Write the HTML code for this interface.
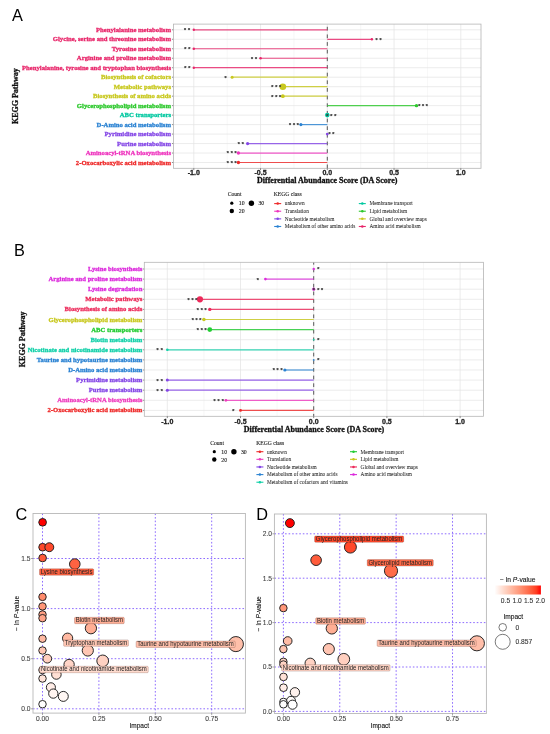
<!DOCTYPE html>
<html><head><meta charset="utf-8"><title>KEGG figure</title>
<style>html,body{margin:0;padding:0;background:#fff;overflow:hidden;width:550px;height:734px;}svg{display:block;filter:blur(0.3px);}</style></head>
<body><svg width="550" height="734" viewBox="0 0 550 734">
<rect width="550" height="734" fill="#fff"/>
<line x1="193.80" y1="24.1" x2="193.80" y2="168.3" stroke="#e2e2e2" stroke-width="0.7"/>
<line x1="260.55" y1="24.1" x2="260.55" y2="168.3" stroke="#e2e2e2" stroke-width="0.7"/>
<line x1="327.30" y1="24.1" x2="327.30" y2="168.3" stroke="#e2e2e2" stroke-width="0.7"/>
<line x1="394.05" y1="24.1" x2="394.05" y2="168.3" stroke="#e2e2e2" stroke-width="0.7"/>
<line x1="460.80" y1="24.1" x2="460.80" y2="168.3" stroke="#e2e2e2" stroke-width="0.7"/>
<line x1="227.18" y1="24.1" x2="227.18" y2="168.3" stroke="#efefef" stroke-width="0.5"/>
<line x1="293.93" y1="24.1" x2="293.93" y2="168.3" stroke="#efefef" stroke-width="0.5"/>
<line x1="360.68" y1="24.1" x2="360.68" y2="168.3" stroke="#efefef" stroke-width="0.5"/>
<line x1="427.43" y1="24.1" x2="427.43" y2="168.3" stroke="#efefef" stroke-width="0.5"/>
<line x1="173.5" y1="29.80" x2="481" y2="29.80" stroke="#e4e4e4" stroke-width="0.7"/>
<line x1="173.5" y1="39.28" x2="481" y2="39.28" stroke="#e4e4e4" stroke-width="0.7"/>
<line x1="173.5" y1="48.76" x2="481" y2="48.76" stroke="#e4e4e4" stroke-width="0.7"/>
<line x1="173.5" y1="58.24" x2="481" y2="58.24" stroke="#e4e4e4" stroke-width="0.7"/>
<line x1="173.5" y1="67.72" x2="481" y2="67.72" stroke="#e4e4e4" stroke-width="0.7"/>
<line x1="173.5" y1="77.20" x2="481" y2="77.20" stroke="#e4e4e4" stroke-width="0.7"/>
<line x1="173.5" y1="86.68" x2="481" y2="86.68" stroke="#e4e4e4" stroke-width="0.7"/>
<line x1="173.5" y1="96.16" x2="481" y2="96.16" stroke="#e4e4e4" stroke-width="0.7"/>
<line x1="173.5" y1="105.64" x2="481" y2="105.64" stroke="#e4e4e4" stroke-width="0.7"/>
<line x1="173.5" y1="115.12" x2="481" y2="115.12" stroke="#e4e4e4" stroke-width="0.7"/>
<line x1="173.5" y1="124.60" x2="481" y2="124.60" stroke="#e4e4e4" stroke-width="0.7"/>
<line x1="173.5" y1="134.08" x2="481" y2="134.08" stroke="#e4e4e4" stroke-width="0.7"/>
<line x1="173.5" y1="143.56" x2="481" y2="143.56" stroke="#e4e4e4" stroke-width="0.7"/>
<line x1="173.5" y1="153.04" x2="481" y2="153.04" stroke="#e4e4e4" stroke-width="0.7"/>
<line x1="173.5" y1="162.52" x2="481" y2="162.52" stroke="#e4e4e4" stroke-width="0.7"/>
<line x1="327.30" y1="24.1" x2="327.30" y2="168.3" stroke="#505050" stroke-width="0.95" stroke-dasharray="3.75 3.9" stroke-dashoffset="4.95"/>
<line x1="327.30" y1="29.80" x2="193.80" y2="29.80" stroke="#e8266a" stroke-width="1.2" stroke-opacity="0.82"/>
<circle cx="193.80" cy="29.80" r="1.2" fill="#e8266a"/>
<text x="185.10" y="32.20" font-family="Liberation Sans, sans-serif" font-size="5.3" font-weight="bold" fill="#3a3a3a" stroke="#3a3a3a" stroke-width="0.25" text-anchor="middle">*</text>
<text x="189.10" y="32.20" font-family="Liberation Sans, sans-serif" font-size="5.3" font-weight="bold" fill="#3a3a3a" stroke="#3a3a3a" stroke-width="0.25" text-anchor="middle">*</text>
<text x="171.0" y="31.90" font-family="Liberation Serif, serif" font-size="6.68" font-weight="bold" fill="#e8266a" stroke="#e8266a" stroke-width="0.3" text-anchor="end" transform="matrix(1 0 0 1.03 0 -0.957)">Phenylalanine metabolism</text>
<line x1="171.9" y1="29.80" x2="173.5" y2="29.80" stroke="#444" stroke-width="0.6"/>
<line x1="327.30" y1="39.28" x2="371.89" y2="39.28" stroke="#e8266a" stroke-width="1.2" stroke-opacity="0.82"/>
<circle cx="371.89" cy="39.28" r="1.2" fill="#e8266a"/>
<text x="376.60" y="41.68" font-family="Liberation Sans, sans-serif" font-size="5.3" font-weight="bold" fill="#3a3a3a" stroke="#3a3a3a" stroke-width="0.25" text-anchor="middle">*</text>
<text x="380.50" y="41.68" font-family="Liberation Sans, sans-serif" font-size="5.3" font-weight="bold" fill="#3a3a3a" stroke="#3a3a3a" stroke-width="0.25" text-anchor="middle">*</text>
<text x="171.0" y="41.38" font-family="Liberation Serif, serif" font-size="6.68" font-weight="bold" fill="#e8266a" stroke="#e8266a" stroke-width="0.3" text-anchor="end" transform="matrix(1 0 0 1.03 0 -1.241)">Glycine, serine and threonine metabolism</text>
<line x1="171.9" y1="39.28" x2="173.5" y2="39.28" stroke="#444" stroke-width="0.6"/>
<line x1="327.30" y1="48.76" x2="193.80" y2="48.76" stroke="#e8266a" stroke-width="1.2" stroke-opacity="0.82"/>
<circle cx="193.80" cy="48.76" r="1.3" fill="#e8266a"/>
<text x="185.20" y="51.16" font-family="Liberation Sans, sans-serif" font-size="5.3" font-weight="bold" fill="#3a3a3a" stroke="#3a3a3a" stroke-width="0.25" text-anchor="middle">*</text>
<text x="189.30" y="51.16" font-family="Liberation Sans, sans-serif" font-size="5.3" font-weight="bold" fill="#3a3a3a" stroke="#3a3a3a" stroke-width="0.25" text-anchor="middle">*</text>
<text x="171.0" y="50.86" font-family="Liberation Serif, serif" font-size="6.68" font-weight="bold" fill="#e8266a" stroke="#e8266a" stroke-width="0.3" text-anchor="end" transform="matrix(1 0 0 1.03 0 -1.526)">Tyrosine metabolism</text>
<line x1="171.9" y1="48.76" x2="173.5" y2="48.76" stroke="#444" stroke-width="0.6"/>
<line x1="327.30" y1="58.24" x2="260.55" y2="58.24" stroke="#e8266a" stroke-width="1.2" stroke-opacity="0.82"/>
<circle cx="260.55" cy="58.24" r="1.3" fill="#e8266a"/>
<text x="252.00" y="60.64" font-family="Liberation Sans, sans-serif" font-size="5.3" font-weight="bold" fill="#3a3a3a" stroke="#3a3a3a" stroke-width="0.25" text-anchor="middle">*</text>
<text x="256.10" y="60.64" font-family="Liberation Sans, sans-serif" font-size="5.3" font-weight="bold" fill="#3a3a3a" stroke="#3a3a3a" stroke-width="0.25" text-anchor="middle">*</text>
<text x="171.0" y="60.34" font-family="Liberation Serif, serif" font-size="6.68" font-weight="bold" fill="#e8266a" stroke="#e8266a" stroke-width="0.3" text-anchor="end" transform="matrix(1 0 0 1.03 0 -1.810)">Arginine and proline metabolism</text>
<line x1="171.9" y1="58.24" x2="173.5" y2="58.24" stroke="#444" stroke-width="0.6"/>
<line x1="327.30" y1="67.72" x2="193.80" y2="67.72" stroke="#e8266a" stroke-width="1.2" stroke-opacity="0.82"/>
<circle cx="193.80" cy="67.72" r="1.2" fill="#e8266a"/>
<text x="185.20" y="70.12" font-family="Liberation Sans, sans-serif" font-size="5.3" font-weight="bold" fill="#3a3a3a" stroke="#3a3a3a" stroke-width="0.25" text-anchor="middle">*</text>
<text x="189.30" y="70.12" font-family="Liberation Sans, sans-serif" font-size="5.3" font-weight="bold" fill="#3a3a3a" stroke="#3a3a3a" stroke-width="0.25" text-anchor="middle">*</text>
<text x="171.0" y="69.82" font-family="Liberation Serif, serif" font-size="6.68" font-weight="bold" fill="#e8266a" stroke="#e8266a" stroke-width="0.3" text-anchor="end" transform="matrix(1 0 0 1.03 0 -2.095)">Phenylalanine, tyrosine and tryptophan biosynthesis</text>
<line x1="171.9" y1="67.72" x2="173.5" y2="67.72" stroke="#444" stroke-width="0.6"/>
<line x1="327.30" y1="77.20" x2="232.11" y2="77.20" stroke="#c8c81e" stroke-width="1.2" stroke-opacity="0.82"/>
<circle cx="232.11" cy="77.20" r="1.5" fill="#c8c81e"/>
<text x="225.50" y="79.60" font-family="Liberation Sans, sans-serif" font-size="5.3" font-weight="bold" fill="#3a3a3a" stroke="#3a3a3a" stroke-width="0.25" text-anchor="middle">*</text>
<text x="171.0" y="79.30" font-family="Liberation Serif, serif" font-size="6.68" font-weight="bold" fill="#c8c81e" stroke="#c8c81e" stroke-width="0.3" text-anchor="end" transform="matrix(1 0 0 1.03 0 -2.379)">Biosynthesis of cofactors</text>
<line x1="171.9" y1="77.20" x2="173.5" y2="77.20" stroke="#444" stroke-width="0.6"/>
<line x1="327.30" y1="86.68" x2="282.84" y2="86.68" stroke="#c8c81e" stroke-width="1.2" stroke-opacity="0.82"/>
<circle cx="282.84" cy="86.68" r="3.3" fill="#c8c81e"/>
<text x="272.30" y="89.08" font-family="Liberation Sans, sans-serif" font-size="5.3" font-weight="bold" fill="#3a3a3a" stroke="#3a3a3a" stroke-width="0.25" text-anchor="middle">*</text>
<text x="276.30" y="89.08" font-family="Liberation Sans, sans-serif" font-size="5.3" font-weight="bold" fill="#3a3a3a" stroke="#3a3a3a" stroke-width="0.25" text-anchor="middle">*</text>
<text x="280.10" y="89.08" font-family="Liberation Sans, sans-serif" font-size="5.3" font-weight="bold" fill="#3a3a3a" stroke="#3a3a3a" stroke-width="0.25" text-anchor="middle">*</text>
<text x="171.0" y="88.78" font-family="Liberation Serif, serif" font-size="6.68" font-weight="bold" fill="#c8c81e" stroke="#c8c81e" stroke-width="0.3" text-anchor="end" transform="matrix(1 0 0 1.03 0 -2.663)">Metabolic pathways</text>
<line x1="171.9" y1="86.68" x2="173.5" y2="86.68" stroke="#444" stroke-width="0.6"/>
<line x1="327.30" y1="96.16" x2="282.84" y2="96.16" stroke="#c8c81e" stroke-width="1.2" stroke-opacity="0.82"/>
<circle cx="282.84" cy="96.16" r="1.9" fill="#c8c81e"/>
<text x="272.30" y="98.56" font-family="Liberation Sans, sans-serif" font-size="5.3" font-weight="bold" fill="#3a3a3a" stroke="#3a3a3a" stroke-width="0.25" text-anchor="middle">*</text>
<text x="276.30" y="98.56" font-family="Liberation Sans, sans-serif" font-size="5.3" font-weight="bold" fill="#3a3a3a" stroke="#3a3a3a" stroke-width="0.25" text-anchor="middle">*</text>
<text x="280.10" y="98.56" font-family="Liberation Sans, sans-serif" font-size="5.3" font-weight="bold" fill="#3a3a3a" stroke="#3a3a3a" stroke-width="0.25" text-anchor="middle">*</text>
<text x="171.0" y="98.26" font-family="Liberation Serif, serif" font-size="6.68" font-weight="bold" fill="#c8c81e" stroke="#c8c81e" stroke-width="0.3" text-anchor="end" transform="matrix(1 0 0 1.03 0 -2.948)">Biosynthesis of amino acids</text>
<line x1="171.9" y1="96.16" x2="173.5" y2="96.16" stroke="#444" stroke-width="0.6"/>
<line x1="327.30" y1="105.64" x2="416.48" y2="105.64" stroke="#2cc82c" stroke-width="1.2" stroke-opacity="0.82"/>
<circle cx="416.48" cy="105.64" r="1.7" fill="#2cc82c"/>
<text x="419.30" y="108.04" font-family="Liberation Sans, sans-serif" font-size="5.3" font-weight="bold" fill="#3a3a3a" stroke="#3a3a3a" stroke-width="0.25" text-anchor="middle">*</text>
<text x="423.10" y="108.04" font-family="Liberation Sans, sans-serif" font-size="5.3" font-weight="bold" fill="#3a3a3a" stroke="#3a3a3a" stroke-width="0.25" text-anchor="middle">*</text>
<text x="426.90" y="108.04" font-family="Liberation Sans, sans-serif" font-size="5.3" font-weight="bold" fill="#3a3a3a" stroke="#3a3a3a" stroke-width="0.25" text-anchor="middle">*</text>
<text x="171.0" y="107.74" font-family="Liberation Serif, serif" font-size="6.68" font-weight="bold" fill="#2cc82c" stroke="#2cc82c" stroke-width="0.3" text-anchor="end" transform="matrix(1 0 0 1.03 0 -3.232)">Glycerophospholipid metabolism</text>
<line x1="171.9" y1="105.64" x2="173.5" y2="105.64" stroke="#444" stroke-width="0.6"/>
<line x1="327.30" y1="115.12" x2="327.30" y2="115.12" stroke="#00c8a0" stroke-width="1.2" stroke-opacity="0.82"/>
<circle cx="327.30" cy="115.12" r="2.3" fill="#00c8a0"/>
<text x="327.40" y="117.52" font-family="Liberation Sans, sans-serif" font-size="5.3" font-weight="bold" fill="#3a3a3a" stroke="#3a3a3a" stroke-width="0.25" text-anchor="middle">*</text>
<text x="331.40" y="117.52" font-family="Liberation Sans, sans-serif" font-size="5.3" font-weight="bold" fill="#3a3a3a" stroke="#3a3a3a" stroke-width="0.25" text-anchor="middle">*</text>
<text x="335.30" y="117.52" font-family="Liberation Sans, sans-serif" font-size="5.3" font-weight="bold" fill="#3a3a3a" stroke="#3a3a3a" stroke-width="0.25" text-anchor="middle">*</text>
<text x="171.0" y="117.22" font-family="Liberation Serif, serif" font-size="6.68" font-weight="bold" fill="#00c8a0" stroke="#00c8a0" stroke-width="0.3" text-anchor="end" transform="matrix(1 0 0 1.03 0 -3.517)">ABC transporters</text>
<line x1="171.9" y1="115.12" x2="173.5" y2="115.12" stroke="#444" stroke-width="0.6"/>
<line x1="327.30" y1="124.60" x2="300.87" y2="124.60" stroke="#2a82d2" stroke-width="1.2" stroke-opacity="0.82"/>
<circle cx="300.87" cy="124.60" r="1.6" fill="#2a82d2"/>
<text x="290.00" y="127.00" font-family="Liberation Sans, sans-serif" font-size="5.3" font-weight="bold" fill="#3a3a3a" stroke="#3a3a3a" stroke-width="0.25" text-anchor="middle">*</text>
<text x="294.00" y="127.00" font-family="Liberation Sans, sans-serif" font-size="5.3" font-weight="bold" fill="#3a3a3a" stroke="#3a3a3a" stroke-width="0.25" text-anchor="middle">*</text>
<text x="297.70" y="127.00" font-family="Liberation Sans, sans-serif" font-size="5.3" font-weight="bold" fill="#3a3a3a" stroke="#3a3a3a" stroke-width="0.25" text-anchor="middle">*</text>
<text x="171.0" y="126.70" font-family="Liberation Serif, serif" font-size="6.68" font-weight="bold" fill="#2a82d2" stroke="#2a82d2" stroke-width="0.3" text-anchor="end" transform="matrix(1 0 0 1.03 0 -3.801)">D-Amino acid metabolism</text>
<line x1="171.9" y1="124.60" x2="173.5" y2="124.60" stroke="#444" stroke-width="0.6"/>
<line x1="327.30" y1="134.08" x2="327.30" y2="134.08" stroke="#8446e6" stroke-width="1.2" stroke-opacity="0.82"/>
<circle cx="327.30" cy="134.08" r="1.4" fill="#8446e6"/>
<text x="329.50" y="136.48" font-family="Liberation Sans, sans-serif" font-size="5.3" font-weight="bold" fill="#3a3a3a" stroke="#3a3a3a" stroke-width="0.25" text-anchor="middle">*</text>
<text x="333.40" y="136.48" font-family="Liberation Sans, sans-serif" font-size="5.3" font-weight="bold" fill="#3a3a3a" stroke="#3a3a3a" stroke-width="0.25" text-anchor="middle">*</text>
<text x="171.0" y="136.18" font-family="Liberation Serif, serif" font-size="6.68" font-weight="bold" fill="#8446e6" stroke="#8446e6" stroke-width="0.3" text-anchor="end" transform="matrix(1 0 0 1.03 0 -4.085)">Pyrimidine metabolism</text>
<line x1="171.9" y1="134.08" x2="173.5" y2="134.08" stroke="#444" stroke-width="0.6"/>
<line x1="327.30" y1="143.56" x2="247.60" y2="143.56" stroke="#8446e6" stroke-width="1.2" stroke-opacity="0.82"/>
<circle cx="247.60" cy="143.56" r="1.6" fill="#8446e6"/>
<text x="238.80" y="145.96" font-family="Liberation Sans, sans-serif" font-size="5.3" font-weight="bold" fill="#3a3a3a" stroke="#3a3a3a" stroke-width="0.25" text-anchor="middle">*</text>
<text x="242.90" y="145.96" font-family="Liberation Sans, sans-serif" font-size="5.3" font-weight="bold" fill="#3a3a3a" stroke="#3a3a3a" stroke-width="0.25" text-anchor="middle">*</text>
<text x="171.0" y="145.66" font-family="Liberation Serif, serif" font-size="6.68" font-weight="bold" fill="#8446e6" stroke="#8446e6" stroke-width="0.3" text-anchor="end" transform="matrix(1 0 0 1.03 0 -4.370)">Purine metabolism</text>
<line x1="171.9" y1="143.56" x2="173.5" y2="143.56" stroke="#444" stroke-width="0.6"/>
<line x1="327.30" y1="153.04" x2="238.39" y2="153.04" stroke="#ee34be" stroke-width="1.2" stroke-opacity="0.82"/>
<circle cx="238.39" cy="153.04" r="1.7" fill="#ee34be"/>
<text x="227.90" y="155.44" font-family="Liberation Sans, sans-serif" font-size="5.3" font-weight="bold" fill="#3a3a3a" stroke="#3a3a3a" stroke-width="0.25" text-anchor="middle">*</text>
<text x="231.80" y="155.44" font-family="Liberation Sans, sans-serif" font-size="5.3" font-weight="bold" fill="#3a3a3a" stroke="#3a3a3a" stroke-width="0.25" text-anchor="middle">*</text>
<text x="235.50" y="155.44" font-family="Liberation Sans, sans-serif" font-size="5.3" font-weight="bold" fill="#3a3a3a" stroke="#3a3a3a" stroke-width="0.25" text-anchor="middle">*</text>
<text x="171.0" y="155.14" font-family="Liberation Serif, serif" font-size="6.68" font-weight="bold" fill="#ee34be" stroke="#ee34be" stroke-width="0.3" text-anchor="end" transform="matrix(1 0 0 1.03 0 -4.654)">Aminoacyl-tRNA biosynthesis</text>
<line x1="171.9" y1="153.04" x2="173.5" y2="153.04" stroke="#444" stroke-width="0.6"/>
<line x1="327.30" y1="162.52" x2="238.39" y2="162.52" stroke="#ee2a2a" stroke-width="1.2" stroke-opacity="0.82"/>
<circle cx="238.39" cy="162.52" r="1.7" fill="#ee2a2a"/>
<text x="227.90" y="164.92" font-family="Liberation Sans, sans-serif" font-size="5.3" font-weight="bold" fill="#3a3a3a" stroke="#3a3a3a" stroke-width="0.25" text-anchor="middle">*</text>
<text x="231.80" y="164.92" font-family="Liberation Sans, sans-serif" font-size="5.3" font-weight="bold" fill="#3a3a3a" stroke="#3a3a3a" stroke-width="0.25" text-anchor="middle">*</text>
<text x="235.50" y="164.92" font-family="Liberation Sans, sans-serif" font-size="5.3" font-weight="bold" fill="#3a3a3a" stroke="#3a3a3a" stroke-width="0.25" text-anchor="middle">*</text>
<text x="171.0" y="164.62" font-family="Liberation Serif, serif" font-size="6.68" font-weight="bold" fill="#ee2a2a" stroke="#ee2a2a" stroke-width="0.3" text-anchor="end" transform="matrix(1 0 0 1.03 0 -4.939)">2-Oxocarboxylic acid metabolism</text>
<line x1="171.9" y1="162.52" x2="173.5" y2="162.52" stroke="#444" stroke-width="0.6"/>
<rect x="173.5" y="24.1" width="307.5" height="144.20000000000002" fill="none" stroke="#b5b5b5" stroke-width="0.8"/>
<line x1="193.80" y1="168.3" x2="193.80" y2="170.10000000000002" stroke="#333" stroke-width="0.6"/>
<text x="193.80" y="175.0" font-family="Liberation Sans, sans-serif" font-size="7" font-weight="bold" fill="#222" stroke="#222" stroke-width="0.3" text-anchor="middle">-1.0</text>
<line x1="260.55" y1="168.3" x2="260.55" y2="170.10000000000002" stroke="#333" stroke-width="0.6"/>
<text x="260.55" y="175.0" font-family="Liberation Sans, sans-serif" font-size="7" font-weight="bold" fill="#222" stroke="#222" stroke-width="0.3" text-anchor="middle">-0.5</text>
<line x1="327.30" y1="168.3" x2="327.30" y2="170.10000000000002" stroke="#333" stroke-width="0.6"/>
<text x="327.30" y="175.0" font-family="Liberation Sans, sans-serif" font-size="7" font-weight="bold" fill="#222" stroke="#222" stroke-width="0.3" text-anchor="middle">0.0</text>
<line x1="394.05" y1="168.3" x2="394.05" y2="170.10000000000002" stroke="#333" stroke-width="0.6"/>
<text x="394.05" y="175.0" font-family="Liberation Sans, sans-serif" font-size="7" font-weight="bold" fill="#222" stroke="#222" stroke-width="0.3" text-anchor="middle">0.5</text>
<line x1="460.80" y1="168.3" x2="460.80" y2="170.10000000000002" stroke="#333" stroke-width="0.6"/>
<text x="460.80" y="175.0" font-family="Liberation Sans, sans-serif" font-size="7" font-weight="bold" fill="#222" stroke="#222" stroke-width="0.3" text-anchor="middle">1.0</text>
<text x="327.25" y="183.3" font-family="Liberation Serif, serif" font-size="8" font-weight="bold" fill="#111" stroke="#111" stroke-width="0.3" text-anchor="middle">Differential Abundance Score (DA Score)</text>
<text x="18.2" y="96.20" font-family="Liberation Serif, serif" font-size="8" font-weight="bold" fill="#111" stroke="#111" stroke-width="0.3" text-anchor="middle" transform="rotate(-90 18.2 96.20)">KEGG Pathway</text>
<text x="227.8" y="196.2" font-family="Liberation Serif, serif" font-size="5.6" fill="#222" stroke="#222" stroke-width="0.12">Count</text>
<circle cx="231.8" cy="203.2" r="1.6" fill="#000"/>
<text x="238.8" y="205.29999999999998" font-family="Liberation Serif, serif" font-size="5.8" fill="#222" stroke="#222" stroke-width="0.12">10</text>
<circle cx="251.4" cy="203.2" r="2.7" fill="#000"/>
<text x="258.4" y="205.29999999999998" font-family="Liberation Serif, serif" font-size="5.8" fill="#222" stroke="#222" stroke-width="0.12">30</text>
<circle cx="231.8" cy="211.0" r="2.2" fill="#000"/>
<text x="238.8" y="213.1" font-family="Liberation Serif, serif" font-size="5.8" fill="#222" stroke="#222" stroke-width="0.12">20</text>
<text x="273.8" y="196.2" font-family="Liberation Serif, serif" font-size="5.6" fill="#222" stroke="#222" stroke-width="0.12">KEGG class</text>
<line x1="274.2" y1="203.60" x2="281.2" y2="203.60" stroke="#ee2a2a" stroke-width="1.1"/>
<circle cx="277.7" cy="203.60" r="1.25" fill="#ee2a2a"/>
<text x="284.8" y="205.50" font-family="Liberation Serif, serif" font-size="5.35" fill="#2a2a2a" stroke="#2a2a2a" stroke-width="0.05" transform="matrix(1 0 0 1.06 0 -12.330)">unknown</text>
<line x1="274.2" y1="211.23" x2="281.2" y2="211.23" stroke="#ee34be" stroke-width="1.1"/>
<circle cx="277.7" cy="211.23" r="1.25" fill="#ee34be"/>
<text x="284.8" y="213.13" font-family="Liberation Serif, serif" font-size="5.35" fill="#2a2a2a" stroke="#2a2a2a" stroke-width="0.05" transform="matrix(1 0 0 1.06 0 -12.788)">Translation</text>
<line x1="274.2" y1="218.86" x2="281.2" y2="218.86" stroke="#8446e6" stroke-width="1.1"/>
<circle cx="277.7" cy="218.86" r="1.25" fill="#8446e6"/>
<text x="284.8" y="220.76" font-family="Liberation Serif, serif" font-size="5.35" fill="#2a2a2a" stroke="#2a2a2a" stroke-width="0.05" transform="matrix(1 0 0 1.06 0 -13.246)">Nucleotide metabolism</text>
<line x1="274.2" y1="226.49" x2="281.2" y2="226.49" stroke="#2a82d2" stroke-width="1.1"/>
<circle cx="277.7" cy="226.49" r="1.25" fill="#2a82d2"/>
<text x="284.8" y="228.39" font-family="Liberation Serif, serif" font-size="5.35" fill="#2a2a2a" stroke="#2a2a2a" stroke-width="0.05" transform="matrix(1 0 0 1.06 0 -13.703)">Metabolism of other amino acids</text>
<line x1="358.8" y1="203.60" x2="365.8" y2="203.60" stroke="#00c8a0" stroke-width="1.1"/>
<circle cx="362.3" cy="203.60" r="1.25" fill="#00c8a0"/>
<text x="369.40000000000003" y="205.50" font-family="Liberation Serif, serif" font-size="5.35" fill="#2a2a2a" stroke="#2a2a2a" stroke-width="0.05" transform="matrix(1 0 0 1.06 0 -12.330)">Membrane transport</text>
<line x1="358.8" y1="211.23" x2="365.8" y2="211.23" stroke="#2cc82c" stroke-width="1.1"/>
<circle cx="362.3" cy="211.23" r="1.25" fill="#2cc82c"/>
<text x="369.40000000000003" y="213.13" font-family="Liberation Serif, serif" font-size="5.35" fill="#2a2a2a" stroke="#2a2a2a" stroke-width="0.05" transform="matrix(1 0 0 1.06 0 -12.788)">Lipid metabolism</text>
<line x1="358.8" y1="218.86" x2="365.8" y2="218.86" stroke="#c8c81e" stroke-width="1.1"/>
<circle cx="362.3" cy="218.86" r="1.25" fill="#c8c81e"/>
<text x="369.40000000000003" y="220.76" font-family="Liberation Serif, serif" font-size="5.35" fill="#2a2a2a" stroke="#2a2a2a" stroke-width="0.05" transform="matrix(1 0 0 1.06 0 -13.246)">Global and overview maps</text>
<line x1="358.8" y1="226.49" x2="365.8" y2="226.49" stroke="#e8266a" stroke-width="1.1"/>
<circle cx="362.3" cy="226.49" r="1.25" fill="#e8266a"/>
<text x="369.40000000000003" y="228.39" font-family="Liberation Serif, serif" font-size="5.35" fill="#2a2a2a" stroke="#2a2a2a" stroke-width="0.05" transform="matrix(1 0 0 1.06 0 -13.703)">Amino acid metabolism</text>
<line x1="167.30" y1="262.3" x2="167.30" y2="416.3" stroke="#e2e2e2" stroke-width="0.7"/>
<line x1="240.50" y1="262.3" x2="240.50" y2="416.3" stroke="#e2e2e2" stroke-width="0.7"/>
<line x1="313.70" y1="262.3" x2="313.70" y2="416.3" stroke="#e2e2e2" stroke-width="0.7"/>
<line x1="386.90" y1="262.3" x2="386.90" y2="416.3" stroke="#e2e2e2" stroke-width="0.7"/>
<line x1="460.10" y1="262.3" x2="460.10" y2="416.3" stroke="#e2e2e2" stroke-width="0.7"/>
<line x1="203.90" y1="262.3" x2="203.90" y2="416.3" stroke="#efefef" stroke-width="0.5"/>
<line x1="277.10" y1="262.3" x2="277.10" y2="416.3" stroke="#efefef" stroke-width="0.5"/>
<line x1="350.30" y1="262.3" x2="350.30" y2="416.3" stroke="#efefef" stroke-width="0.5"/>
<line x1="423.50" y1="262.3" x2="423.50" y2="416.3" stroke="#efefef" stroke-width="0.5"/>
<line x1="144.3" y1="269.00" x2="483.6" y2="269.00" stroke="#e4e4e4" stroke-width="0.7"/>
<line x1="144.3" y1="279.10" x2="483.6" y2="279.10" stroke="#e4e4e4" stroke-width="0.7"/>
<line x1="144.3" y1="289.20" x2="483.6" y2="289.20" stroke="#e4e4e4" stroke-width="0.7"/>
<line x1="144.3" y1="299.30" x2="483.6" y2="299.30" stroke="#e4e4e4" stroke-width="0.7"/>
<line x1="144.3" y1="309.40" x2="483.6" y2="309.40" stroke="#e4e4e4" stroke-width="0.7"/>
<line x1="144.3" y1="319.50" x2="483.6" y2="319.50" stroke="#e4e4e4" stroke-width="0.7"/>
<line x1="144.3" y1="329.60" x2="483.6" y2="329.60" stroke="#e4e4e4" stroke-width="0.7"/>
<line x1="144.3" y1="339.70" x2="483.6" y2="339.70" stroke="#e4e4e4" stroke-width="0.7"/>
<line x1="144.3" y1="349.80" x2="483.6" y2="349.80" stroke="#e4e4e4" stroke-width="0.7"/>
<line x1="144.3" y1="359.90" x2="483.6" y2="359.90" stroke="#e4e4e4" stroke-width="0.7"/>
<line x1="144.3" y1="370.00" x2="483.6" y2="370.00" stroke="#e4e4e4" stroke-width="0.7"/>
<line x1="144.3" y1="380.10" x2="483.6" y2="380.10" stroke="#e4e4e4" stroke-width="0.7"/>
<line x1="144.3" y1="390.20" x2="483.6" y2="390.20" stroke="#e4e4e4" stroke-width="0.7"/>
<line x1="144.3" y1="400.30" x2="483.6" y2="400.30" stroke="#e4e4e4" stroke-width="0.7"/>
<line x1="144.3" y1="410.40" x2="483.6" y2="410.40" stroke="#e4e4e4" stroke-width="0.7"/>
<line x1="313.70" y1="262.3" x2="313.70" y2="416.3" stroke="#505050" stroke-width="0.95" stroke-dasharray="3.75 3.9" stroke-dashoffset="1.4"/>
<line x1="313.70" y1="269.00" x2="313.70" y2="269.00" stroke="#dc2adc" stroke-width="1.2" stroke-opacity="0.82"/>
<circle cx="313.70" cy="269.00" r="1.2" fill="#dc2adc"/>
<text x="318.20" y="271.40" font-family="Liberation Sans, sans-serif" font-size="5.3" font-weight="bold" fill="#3a3a3a" stroke="#3a3a3a" stroke-width="0.25" text-anchor="middle">*</text>
<text x="142.4" y="271.10" font-family="Liberation Serif, serif" font-size="6.65" font-weight="bold" fill="#dc2adc" stroke="#dc2adc" stroke-width="0.3" text-anchor="end" transform="matrix(1 0 0 1.03 0 -8.133)">Lysine biosynthesis</text>
<line x1="142.70000000000002" y1="269.00" x2="144.3" y2="269.00" stroke="#444" stroke-width="0.6"/>
<line x1="313.70" y1="279.10" x2="265.39" y2="279.10" stroke="#dc2adc" stroke-width="1.2" stroke-opacity="0.82"/>
<circle cx="265.39" cy="279.10" r="1.3" fill="#dc2adc"/>
<text x="257.70" y="281.50" font-family="Liberation Sans, sans-serif" font-size="5.3" font-weight="bold" fill="#3a3a3a" stroke="#3a3a3a" stroke-width="0.25" text-anchor="middle">*</text>
<text x="142.4" y="281.20" font-family="Liberation Serif, serif" font-size="6.65" font-weight="bold" fill="#dc2adc" stroke="#dc2adc" stroke-width="0.3" text-anchor="end" transform="matrix(1 0 0 1.03 0 -8.436)">Arginine and proline metabolism</text>
<line x1="142.70000000000002" y1="279.10" x2="144.3" y2="279.10" stroke="#444" stroke-width="0.6"/>
<line x1="313.70" y1="289.20" x2="313.70" y2="289.20" stroke="#dc2adc" stroke-width="1.2" stroke-opacity="0.82"/>
<circle cx="313.70" cy="289.20" r="1.6" fill="#dc2adc"/>
<text x="313.90" y="291.60" font-family="Liberation Sans, sans-serif" font-size="5.3" font-weight="bold" fill="#3a3a3a" stroke="#3a3a3a" stroke-width="0.25" text-anchor="middle">*</text>
<text x="318.20" y="291.60" font-family="Liberation Sans, sans-serif" font-size="5.3" font-weight="bold" fill="#3a3a3a" stroke="#3a3a3a" stroke-width="0.25" text-anchor="middle">*</text>
<text x="322.10" y="291.60" font-family="Liberation Sans, sans-serif" font-size="5.3" font-weight="bold" fill="#3a3a3a" stroke="#3a3a3a" stroke-width="0.25" text-anchor="middle">*</text>
<text x="142.4" y="291.30" font-family="Liberation Serif, serif" font-size="6.65" font-weight="bold" fill="#dc2adc" stroke="#dc2adc" stroke-width="0.3" text-anchor="end" transform="matrix(1 0 0 1.03 0 -8.739)">Lysine degradation</text>
<line x1="142.70000000000002" y1="289.20" x2="144.3" y2="289.20" stroke="#444" stroke-width="0.6"/>
<line x1="313.70" y1="299.30" x2="199.95" y2="299.30" stroke="#ec2a5a" stroke-width="1.2" stroke-opacity="0.82"/>
<circle cx="199.95" cy="299.30" r="3.1" fill="#ec2a5a"/>
<text x="188.60" y="301.70" font-family="Liberation Sans, sans-serif" font-size="5.3" font-weight="bold" fill="#3a3a3a" stroke="#3a3a3a" stroke-width="0.25" text-anchor="middle">*</text>
<text x="192.50" y="301.70" font-family="Liberation Sans, sans-serif" font-size="5.3" font-weight="bold" fill="#3a3a3a" stroke="#3a3a3a" stroke-width="0.25" text-anchor="middle">*</text>
<text x="196.40" y="301.70" font-family="Liberation Sans, sans-serif" font-size="5.3" font-weight="bold" fill="#3a3a3a" stroke="#3a3a3a" stroke-width="0.25" text-anchor="middle">*</text>
<text x="142.4" y="301.40" font-family="Liberation Serif, serif" font-size="6.65" font-weight="bold" fill="#ec2a5a" stroke="#ec2a5a" stroke-width="0.3" text-anchor="end" transform="matrix(1 0 0 1.03 0 -9.042)">Metabolic pathways</text>
<line x1="142.70000000000002" y1="299.30" x2="144.3" y2="299.30" stroke="#444" stroke-width="0.6"/>
<line x1="313.70" y1="309.40" x2="209.76" y2="309.40" stroke="#ec2a5a" stroke-width="1.2" stroke-opacity="0.82"/>
<circle cx="209.76" cy="309.40" r="1.7" fill="#ec2a5a"/>
<text x="197.80" y="311.80" font-family="Liberation Sans, sans-serif" font-size="5.3" font-weight="bold" fill="#3a3a3a" stroke="#3a3a3a" stroke-width="0.25" text-anchor="middle">*</text>
<text x="201.70" y="311.80" font-family="Liberation Sans, sans-serif" font-size="5.3" font-weight="bold" fill="#3a3a3a" stroke="#3a3a3a" stroke-width="0.25" text-anchor="middle">*</text>
<text x="205.50" y="311.80" font-family="Liberation Sans, sans-serif" font-size="5.3" font-weight="bold" fill="#3a3a3a" stroke="#3a3a3a" stroke-width="0.25" text-anchor="middle">*</text>
<text x="142.4" y="311.50" font-family="Liberation Serif, serif" font-size="6.65" font-weight="bold" fill="#ec2a5a" stroke="#ec2a5a" stroke-width="0.3" text-anchor="end" transform="matrix(1 0 0 1.03 0 -9.345)">Biosynthesis of amino acids</text>
<line x1="142.70000000000002" y1="309.40" x2="144.3" y2="309.40" stroke="#444" stroke-width="0.6"/>
<line x1="313.70" y1="319.50" x2="203.90" y2="319.50" stroke="#c8c81e" stroke-width="1.2" stroke-opacity="0.82"/>
<circle cx="203.90" cy="319.50" r="1.8" fill="#c8c81e"/>
<text x="192.70" y="321.90" font-family="Liberation Sans, sans-serif" font-size="5.3" font-weight="bold" fill="#3a3a3a" stroke="#3a3a3a" stroke-width="0.25" text-anchor="middle">*</text>
<text x="196.50" y="321.90" font-family="Liberation Sans, sans-serif" font-size="5.3" font-weight="bold" fill="#3a3a3a" stroke="#3a3a3a" stroke-width="0.25" text-anchor="middle">*</text>
<text x="200.40" y="321.90" font-family="Liberation Sans, sans-serif" font-size="5.3" font-weight="bold" fill="#3a3a3a" stroke="#3a3a3a" stroke-width="0.25" text-anchor="middle">*</text>
<text x="142.4" y="321.60" font-family="Liberation Serif, serif" font-size="6.65" font-weight="bold" fill="#c8c81e" stroke="#c8c81e" stroke-width="0.3" text-anchor="end" transform="matrix(1 0 0 1.03 0 -9.648)">Glycerophospholipid metabolism</text>
<line x1="142.70000000000002" y1="319.50" x2="144.3" y2="319.50" stroke="#444" stroke-width="0.6"/>
<line x1="313.70" y1="329.60" x2="209.76" y2="329.60" stroke="#22cc33" stroke-width="1.2" stroke-opacity="0.82"/>
<circle cx="209.76" cy="329.60" r="2.4" fill="#22cc33"/>
<text x="197.80" y="332.00" font-family="Liberation Sans, sans-serif" font-size="5.3" font-weight="bold" fill="#3a3a3a" stroke="#3a3a3a" stroke-width="0.25" text-anchor="middle">*</text>
<text x="201.70" y="332.00" font-family="Liberation Sans, sans-serif" font-size="5.3" font-weight="bold" fill="#3a3a3a" stroke="#3a3a3a" stroke-width="0.25" text-anchor="middle">*</text>
<text x="205.50" y="332.00" font-family="Liberation Sans, sans-serif" font-size="5.3" font-weight="bold" fill="#3a3a3a" stroke="#3a3a3a" stroke-width="0.25" text-anchor="middle">*</text>
<text x="142.4" y="331.70" font-family="Liberation Serif, serif" font-size="6.65" font-weight="bold" fill="#22cc33" stroke="#22cc33" stroke-width="0.3" text-anchor="end" transform="matrix(1 0 0 1.03 0 -9.951)">ABC transporters</text>
<line x1="142.70000000000002" y1="329.60" x2="144.3" y2="329.60" stroke="#444" stroke-width="0.6"/>
<line x1="313.70" y1="339.70" x2="313.70" y2="339.70" stroke="#10d0a8" stroke-width="1.2" stroke-opacity="0.82"/>
<circle cx="313.70" cy="339.70" r="0.9" fill="#10d0a8"/>
<text x="318.20" y="342.10" font-family="Liberation Sans, sans-serif" font-size="5.3" font-weight="bold" fill="#3a3a3a" stroke="#3a3a3a" stroke-width="0.25" text-anchor="middle">*</text>
<text x="142.4" y="341.80" font-family="Liberation Serif, serif" font-size="6.65" font-weight="bold" fill="#10d0a8" stroke="#10d0a8" stroke-width="0.3" text-anchor="end" transform="matrix(1 0 0 1.03 0 -10.254)">Biotin metabolism</text>
<line x1="142.70000000000002" y1="339.70" x2="144.3" y2="339.70" stroke="#444" stroke-width="0.6"/>
<line x1="313.70" y1="349.80" x2="167.30" y2="349.80" stroke="#10d0a8" stroke-width="1.2" stroke-opacity="0.82"/>
<circle cx="167.30" cy="349.80" r="1.3" fill="#10d0a8"/>
<text x="157.60" y="352.20" font-family="Liberation Sans, sans-serif" font-size="5.3" font-weight="bold" fill="#3a3a3a" stroke="#3a3a3a" stroke-width="0.25" text-anchor="middle">*</text>
<text x="161.80" y="352.20" font-family="Liberation Sans, sans-serif" font-size="5.3" font-weight="bold" fill="#3a3a3a" stroke="#3a3a3a" stroke-width="0.25" text-anchor="middle">*</text>
<text x="142.4" y="351.90" font-family="Liberation Serif, serif" font-size="6.65" font-weight="bold" fill="#10d0a8" stroke="#10d0a8" stroke-width="0.3" text-anchor="end" transform="matrix(1 0 0 1.03 0 -10.557)">Nicotinate and nicotinamide metabolism</text>
<line x1="142.70000000000002" y1="349.80" x2="144.3" y2="349.80" stroke="#444" stroke-width="0.6"/>
<line x1="313.70" y1="359.90" x2="313.70" y2="359.90" stroke="#2a82d2" stroke-width="1.2" stroke-opacity="0.82"/>
<circle cx="313.70" cy="359.90" r="0.9" fill="#2a82d2"/>
<text x="318.20" y="362.30" font-family="Liberation Sans, sans-serif" font-size="5.3" font-weight="bold" fill="#3a3a3a" stroke="#3a3a3a" stroke-width="0.25" text-anchor="middle">*</text>
<text x="142.4" y="362.00" font-family="Liberation Serif, serif" font-size="6.65" font-weight="bold" fill="#2a82d2" stroke="#2a82d2" stroke-width="0.3" text-anchor="end" transform="matrix(1 0 0 1.03 0 -10.860)">Taurine and hypotaurine metabolism</text>
<line x1="142.70000000000002" y1="359.90" x2="144.3" y2="359.90" stroke="#444" stroke-width="0.6"/>
<line x1="313.70" y1="370.00" x2="284.86" y2="370.00" stroke="#2a82d2" stroke-width="1.2" stroke-opacity="0.82"/>
<circle cx="284.86" cy="370.00" r="1.6" fill="#2a82d2"/>
<text x="273.70" y="372.40" font-family="Liberation Sans, sans-serif" font-size="5.3" font-weight="bold" fill="#3a3a3a" stroke="#3a3a3a" stroke-width="0.25" text-anchor="middle">*</text>
<text x="277.60" y="372.40" font-family="Liberation Sans, sans-serif" font-size="5.3" font-weight="bold" fill="#3a3a3a" stroke="#3a3a3a" stroke-width="0.25" text-anchor="middle">*</text>
<text x="281.50" y="372.40" font-family="Liberation Sans, sans-serif" font-size="5.3" font-weight="bold" fill="#3a3a3a" stroke="#3a3a3a" stroke-width="0.25" text-anchor="middle">*</text>
<text x="142.4" y="372.10" font-family="Liberation Serif, serif" font-size="6.65" font-weight="bold" fill="#2a82d2" stroke="#2a82d2" stroke-width="0.3" text-anchor="end" transform="matrix(1 0 0 1.03 0 -11.163)">D-Amino acid metabolism</text>
<line x1="142.70000000000002" y1="370.00" x2="144.3" y2="370.00" stroke="#444" stroke-width="0.6"/>
<line x1="313.70" y1="380.10" x2="167.30" y2="380.10" stroke="#8446e6" stroke-width="1.2" stroke-opacity="0.82"/>
<circle cx="167.30" cy="380.10" r="1.5" fill="#8446e6"/>
<text x="157.60" y="382.50" font-family="Liberation Sans, sans-serif" font-size="5.3" font-weight="bold" fill="#3a3a3a" stroke="#3a3a3a" stroke-width="0.25" text-anchor="middle">*</text>
<text x="161.80" y="382.50" font-family="Liberation Sans, sans-serif" font-size="5.3" font-weight="bold" fill="#3a3a3a" stroke="#3a3a3a" stroke-width="0.25" text-anchor="middle">*</text>
<text x="142.4" y="382.20" font-family="Liberation Serif, serif" font-size="6.65" font-weight="bold" fill="#8446e6" stroke="#8446e6" stroke-width="0.3" text-anchor="end" transform="matrix(1 0 0 1.03 0 -11.466)">Pyrimidine metabolism</text>
<line x1="142.70000000000002" y1="380.10" x2="144.3" y2="380.10" stroke="#444" stroke-width="0.6"/>
<line x1="313.70" y1="390.20" x2="167.30" y2="390.20" stroke="#8446e6" stroke-width="1.2" stroke-opacity="0.82"/>
<circle cx="167.30" cy="390.20" r="1.5" fill="#8446e6"/>
<text x="157.60" y="392.60" font-family="Liberation Sans, sans-serif" font-size="5.3" font-weight="bold" fill="#3a3a3a" stroke="#3a3a3a" stroke-width="0.25" text-anchor="middle">*</text>
<text x="161.80" y="392.60" font-family="Liberation Sans, sans-serif" font-size="5.3" font-weight="bold" fill="#3a3a3a" stroke="#3a3a3a" stroke-width="0.25" text-anchor="middle">*</text>
<text x="142.4" y="392.30" font-family="Liberation Serif, serif" font-size="6.65" font-weight="bold" fill="#8446e6" stroke="#8446e6" stroke-width="0.3" text-anchor="end" transform="matrix(1 0 0 1.03 0 -11.769)">Purine metabolism</text>
<line x1="142.70000000000002" y1="390.20" x2="144.3" y2="390.20" stroke="#444" stroke-width="0.6"/>
<line x1="313.70" y1="400.30" x2="225.86" y2="400.30" stroke="#ee3cbe" stroke-width="1.2" stroke-opacity="0.82"/>
<circle cx="225.86" cy="400.30" r="1.4" fill="#ee3cbe"/>
<text x="214.50" y="402.70" font-family="Liberation Sans, sans-serif" font-size="5.3" font-weight="bold" fill="#3a3a3a" stroke="#3a3a3a" stroke-width="0.25" text-anchor="middle">*</text>
<text x="218.50" y="402.70" font-family="Liberation Sans, sans-serif" font-size="5.3" font-weight="bold" fill="#3a3a3a" stroke="#3a3a3a" stroke-width="0.25" text-anchor="middle">*</text>
<text x="222.70" y="402.70" font-family="Liberation Sans, sans-serif" font-size="5.3" font-weight="bold" fill="#3a3a3a" stroke="#3a3a3a" stroke-width="0.25" text-anchor="middle">*</text>
<text x="142.4" y="402.40" font-family="Liberation Serif, serif" font-size="6.65" font-weight="bold" fill="#ee3cbe" stroke="#ee3cbe" stroke-width="0.3" text-anchor="end" transform="matrix(1 0 0 1.03 0 -12.072)">Aminoacyl-tRNA biosynthesis</text>
<line x1="142.70000000000002" y1="400.30" x2="144.3" y2="400.30" stroke="#444" stroke-width="0.6"/>
<line x1="313.70" y1="410.40" x2="240.50" y2="410.40" stroke="#ee2a2a" stroke-width="1.2" stroke-opacity="0.82"/>
<circle cx="240.50" cy="410.40" r="1.4" fill="#ee2a2a"/>
<text x="233.30" y="412.80" font-family="Liberation Sans, sans-serif" font-size="5.3" font-weight="bold" fill="#3a3a3a" stroke="#3a3a3a" stroke-width="0.25" text-anchor="middle">*</text>
<text x="142.4" y="412.50" font-family="Liberation Serif, serif" font-size="6.65" font-weight="bold" fill="#ee2a2a" stroke="#ee2a2a" stroke-width="0.3" text-anchor="end" transform="matrix(1 0 0 1.03 0 -12.375)">2-Oxocarboxylic acid metabolism</text>
<line x1="142.70000000000002" y1="410.40" x2="144.3" y2="410.40" stroke="#444" stroke-width="0.6"/>
<rect x="144.3" y="262.3" width="339.3" height="154.0" fill="none" stroke="#b5b5b5" stroke-width="0.8"/>
<line x1="167.30" y1="416.3" x2="167.30" y2="418.1" stroke="#333" stroke-width="0.6"/>
<text x="167.30" y="423.7" font-family="Liberation Sans, sans-serif" font-size="7" font-weight="bold" fill="#222" stroke="#222" stroke-width="0.3" text-anchor="middle">-1.0</text>
<line x1="240.50" y1="416.3" x2="240.50" y2="418.1" stroke="#333" stroke-width="0.6"/>
<text x="240.50" y="423.7" font-family="Liberation Sans, sans-serif" font-size="7" font-weight="bold" fill="#222" stroke="#222" stroke-width="0.3" text-anchor="middle">-0.5</text>
<line x1="313.70" y1="416.3" x2="313.70" y2="418.1" stroke="#333" stroke-width="0.6"/>
<text x="313.70" y="423.7" font-family="Liberation Sans, sans-serif" font-size="7" font-weight="bold" fill="#222" stroke="#222" stroke-width="0.3" text-anchor="middle">0.0</text>
<line x1="386.90" y1="416.3" x2="386.90" y2="418.1" stroke="#333" stroke-width="0.6"/>
<text x="386.90" y="423.7" font-family="Liberation Sans, sans-serif" font-size="7" font-weight="bold" fill="#222" stroke="#222" stroke-width="0.3" text-anchor="middle">0.5</text>
<line x1="460.10" y1="416.3" x2="460.10" y2="418.1" stroke="#333" stroke-width="0.6"/>
<text x="460.10" y="423.7" font-family="Liberation Sans, sans-serif" font-size="7" font-weight="bold" fill="#222" stroke="#222" stroke-width="0.3" text-anchor="middle">1.0</text>
<text x="313.95" y="431.5" font-family="Liberation Serif, serif" font-size="8" font-weight="bold" fill="#111" stroke="#111" stroke-width="0.3" text-anchor="middle">Differential Abundance Score (DA Score)</text>
<text x="24.8" y="339.30" font-family="Liberation Serif, serif" font-size="8" font-weight="bold" fill="#111" stroke="#111" stroke-width="0.3" text-anchor="middle" transform="rotate(-90 24.8 339.30)">KEGG Pathway</text>
<text x="210.3" y="444.7" font-family="Liberation Serif, serif" font-size="5.6" fill="#222" stroke="#222" stroke-width="0.12">Count</text>
<circle cx="214.3" cy="451.7" r="1.6" fill="#000"/>
<text x="221.3" y="453.8" font-family="Liberation Serif, serif" font-size="5.8" fill="#222" stroke="#222" stroke-width="0.12">10</text>
<circle cx="233.9" cy="451.7" r="2.7" fill="#000"/>
<text x="240.9" y="453.8" font-family="Liberation Serif, serif" font-size="5.8" fill="#222" stroke="#222" stroke-width="0.12">30</text>
<circle cx="214.3" cy="459.5" r="2.2" fill="#000"/>
<text x="221.3" y="461.6" font-family="Liberation Serif, serif" font-size="5.8" fill="#222" stroke="#222" stroke-width="0.12">20</text>
<text x="256.3" y="444.7" font-family="Liberation Serif, serif" font-size="5.6" fill="#222" stroke="#222" stroke-width="0.12">KEGG class</text>
<line x1="256.4" y1="451.70" x2="263.4" y2="451.70" stroke="#ee2a2a" stroke-width="1.1"/>
<circle cx="259.9" cy="451.70" r="1.25" fill="#ee2a2a"/>
<text x="267.0" y="453.60" font-family="Liberation Serif, serif" font-size="5.35" fill="#2a2a2a" stroke="#2a2a2a" stroke-width="0.05" transform="matrix(1 0 0 1.06 0 -27.216)">unknown</text>
<line x1="256.4" y1="459.33" x2="263.4" y2="459.33" stroke="#ee3cbe" stroke-width="1.1"/>
<circle cx="259.9" cy="459.33" r="1.25" fill="#ee3cbe"/>
<text x="267.0" y="461.23" font-family="Liberation Serif, serif" font-size="5.35" fill="#2a2a2a" stroke="#2a2a2a" stroke-width="0.05" transform="matrix(1 0 0 1.06 0 -27.674)">Translation</text>
<line x1="256.4" y1="466.96" x2="263.4" y2="466.96" stroke="#8446e6" stroke-width="1.1"/>
<circle cx="259.9" cy="466.96" r="1.25" fill="#8446e6"/>
<text x="267.0" y="468.86" font-family="Liberation Serif, serif" font-size="5.35" fill="#2a2a2a" stroke="#2a2a2a" stroke-width="0.05" transform="matrix(1 0 0 1.06 0 -28.132)">Nucleotide metabolism</text>
<line x1="256.4" y1="474.59" x2="263.4" y2="474.59" stroke="#2a82d2" stroke-width="1.1"/>
<circle cx="259.9" cy="474.59" r="1.25" fill="#2a82d2"/>
<text x="267.0" y="476.49" font-family="Liberation Serif, serif" font-size="5.35" fill="#2a2a2a" stroke="#2a2a2a" stroke-width="0.05" transform="matrix(1 0 0 1.06 0 -28.589)">Metabolism of other amino acids</text>
<line x1="256.4" y1="482.22" x2="263.4" y2="482.22" stroke="#10d0a8" stroke-width="1.1"/>
<circle cx="259.9" cy="482.22" r="1.25" fill="#10d0a8"/>
<text x="267.0" y="484.12" font-family="Liberation Serif, serif" font-size="5.35" fill="#2a2a2a" stroke="#2a2a2a" stroke-width="0.05" transform="matrix(1 0 0 1.06 0 -29.047)">Metabolism of cofactors and vitamins</text>
<line x1="350.0" y1="451.70" x2="357.0" y2="451.70" stroke="#22cc33" stroke-width="1.1"/>
<circle cx="353.5" cy="451.70" r="1.25" fill="#22cc33"/>
<text x="360.6" y="453.60" font-family="Liberation Serif, serif" font-size="5.35" fill="#2a2a2a" stroke="#2a2a2a" stroke-width="0.05" transform="matrix(1 0 0 1.06 0 -27.216)">Membrane transport</text>
<line x1="350.0" y1="459.33" x2="357.0" y2="459.33" stroke="#c8c81e" stroke-width="1.1"/>
<circle cx="353.5" cy="459.33" r="1.25" fill="#c8c81e"/>
<text x="360.6" y="461.23" font-family="Liberation Serif, serif" font-size="5.35" fill="#2a2a2a" stroke="#2a2a2a" stroke-width="0.05" transform="matrix(1 0 0 1.06 0 -27.674)">Lipid metabolism</text>
<line x1="350.0" y1="466.96" x2="357.0" y2="466.96" stroke="#ec2a5a" stroke-width="1.1"/>
<circle cx="353.5" cy="466.96" r="1.25" fill="#ec2a5a"/>
<text x="360.6" y="468.86" font-family="Liberation Serif, serif" font-size="5.35" fill="#2a2a2a" stroke="#2a2a2a" stroke-width="0.05" transform="matrix(1 0 0 1.06 0 -28.132)">Global and overview maps</text>
<line x1="350.0" y1="474.59" x2="357.0" y2="474.59" stroke="#dc2adc" stroke-width="1.1"/>
<circle cx="353.5" cy="474.59" r="1.25" fill="#dc2adc"/>
<text x="360.6" y="476.49" font-family="Liberation Serif, serif" font-size="5.35" fill="#2a2a2a" stroke="#2a2a2a" stroke-width="0.05" transform="matrix(1 0 0 1.06 0 -28.589)">Amino acid metabolism</text>
<line x1="33.0" y1="708.80" x2="245.4" y2="708.80" stroke="#8d6bff" stroke-width="1.0" stroke-dasharray="1.6 1.95"/>
<line x1="33.0" y1="658.70" x2="245.4" y2="658.70" stroke="#8d6bff" stroke-width="1.0" stroke-dasharray="1.6 1.95"/>
<line x1="33.0" y1="608.60" x2="245.4" y2="608.60" stroke="#8d6bff" stroke-width="1.0" stroke-dasharray="1.6 1.95"/>
<line x1="33.0" y1="558.50" x2="245.4" y2="558.50" stroke="#8d6bff" stroke-width="1.0" stroke-dasharray="1.6 1.95"/>
<line x1="42.50" y1="513.5" x2="42.50" y2="713.1" stroke="#8d6bff" stroke-width="1.0" stroke-dasharray="1.6 1.95"/>
<line x1="98.90" y1="513.5" x2="98.90" y2="713.1" stroke="#8d6bff" stroke-width="1.0" stroke-dasharray="1.6 1.95"/>
<line x1="155.30" y1="513.5" x2="155.30" y2="713.1" stroke="#8d6bff" stroke-width="1.0" stroke-dasharray="1.6 1.95"/>
<line x1="211.70" y1="513.5" x2="211.70" y2="713.1" stroke="#8d6bff" stroke-width="1.0" stroke-dasharray="1.6 1.95"/>
<circle cx="42.60" cy="522.30" r="3.84" fill="#ff0000" stroke="#1e1e1e" stroke-width="0.95"/>
<circle cx="42.60" cy="547.20" r="3.84" fill="#ff492b" stroke="#1e1e1e" stroke-width="0.95"/>
<circle cx="49.30" cy="547.20" r="4.46" fill="#ff492b" stroke="#1e1e1e" stroke-width="0.95"/>
<circle cx="42.60" cy="558.00" r="3.84" fill="#ff5a39" stroke="#1e1e1e" stroke-width="0.95"/>
<circle cx="74.80" cy="564.10" r="5.30" fill="#ff6241" stroke="#1e1e1e" stroke-width="0.95"/>
<circle cx="42.50" cy="596.90" r="3.75" fill="#ff8b6c" stroke="#1e1e1e" stroke-width="0.95"/>
<circle cx="42.50" cy="606.40" r="3.75" fill="#ff9678" stroke="#1e1e1e" stroke-width="0.95"/>
<circle cx="42.50" cy="614.50" r="3.75" fill="#ff9f83" stroke="#1e1e1e" stroke-width="0.95"/>
<circle cx="42.50" cy="618.20" r="3.75" fill="#ffa388" stroke="#1e1e1e" stroke-width="0.95"/>
<circle cx="90.90" cy="628.20" r="5.65" fill="#ffae95" stroke="#1e1e1e" stroke-width="0.95"/>
<circle cx="42.50" cy="638.70" r="3.75" fill="#ffbaa3" stroke="#1e1e1e" stroke-width="0.95"/>
<circle cx="67.60" cy="638.20" r="5.12" fill="#ffb9a2" stroke="#1e1e1e" stroke-width="0.95"/>
<circle cx="87.80" cy="650.50" r="5.59" fill="#ffc6b3" stroke="#1e1e1e" stroke-width="0.95"/>
<circle cx="42.50" cy="650.50" r="3.75" fill="#ffc6b3" stroke="#1e1e1e" stroke-width="0.95"/>
<circle cx="47.30" cy="658.70" r="4.35" fill="#ffcfbf" stroke="#1e1e1e" stroke-width="0.95"/>
<circle cx="102.70" cy="660.90" r="5.87" fill="#ffd1c2" stroke="#1e1e1e" stroke-width="0.95"/>
<circle cx="69.10" cy="664.50" r="5.16" fill="#ffd5c7" stroke="#1e1e1e" stroke-width="0.95"/>
<circle cx="42.50" cy="670.00" r="3.75" fill="#ffdbce" stroke="#1e1e1e" stroke-width="0.95"/>
<circle cx="56.40" cy="674.50" r="4.77" fill="#ffe0d5" stroke="#1e1e1e" stroke-width="0.95"/>
<circle cx="42.50" cy="678.50" r="3.75" fill="#ffe4da" stroke="#1e1e1e" stroke-width="0.95"/>
<circle cx="50.90" cy="687.30" r="4.54" fill="#ffede7" stroke="#1e1e1e" stroke-width="0.95"/>
<circle cx="53.30" cy="693.60" r="4.65" fill="#fff4f0" stroke="#1e1e1e" stroke-width="0.95"/>
<circle cx="63.30" cy="696.40" r="5.00" fill="#fff7f4" stroke="#1e1e1e" stroke-width="0.95"/>
<circle cx="42.50" cy="704.20" r="3.75" fill="#ffffff" stroke="#1e1e1e" stroke-width="0.95"/>
<circle cx="235.90" cy="644.10" r="7.55" fill="#ffbfaa" stroke="#1e1e1e" stroke-width="0.95"/>
<rect x="39.50" y="568.80" width="54.21" height="6.4" rx="1" fill="#ff6241" stroke="#5a2a20" stroke-opacity="0.45" stroke-width="0.5"/>
<text x="40.70" y="574.00" font-family="Liberation Sans, sans-serif" font-size="6" fill="#222" transform="matrix(1 0 0 1.06 0 -34.440)">Lysine biosynthesis</text>
<rect x="74.50" y="617.30" width="49.75" height="6.4" rx="1" fill="#ffae95" stroke="#5a2a20" stroke-opacity="0.45" stroke-width="0.5"/>
<text x="75.70" y="622.50" font-family="Liberation Sans, sans-serif" font-size="6" fill="#222" transform="matrix(1 0 0 1.06 0 -37.350)">Biotin metabolism</text>
<rect x="63.60" y="639.90" width="64.87" height="6.4" rx="1" fill="#ffc6b3" stroke="#5a2a20" stroke-opacity="0.45" stroke-width="0.5"/>
<text x="64.80" y="645.10" font-family="Liberation Sans, sans-serif" font-size="6" fill="#222" transform="matrix(1 0 0 1.06 0 -38.706)">Tryptophan metabolism</text>
<rect x="136.10" y="641.10" width="99.12" height="6.4" rx="1" fill="#ffbfaa" stroke="#5a2a20" stroke-opacity="0.45" stroke-width="0.5"/>
<text x="137.30" y="646.30" font-family="Liberation Sans, sans-serif" font-size="6" fill="#222" transform="matrix(1 0 0 1.06 0 -38.778)">Taurine and hypotaurine metabolism</text>
<rect x="39.80" y="666.30" width="108.45" height="6.4" rx="1" fill="#ffdbce" stroke="#5a2a20" stroke-opacity="0.45" stroke-width="0.5"/>
<text x="41.00" y="671.50" font-family="Liberation Sans, sans-serif" font-size="6" fill="#222" transform="matrix(1 0 0 1.06 0 -40.290)">Nicotinate and nicotinamide metabolism</text>
<rect x="33.0" y="513.5" width="212.4" height="199.60000000000002" fill="none" stroke="#b8b8b8" stroke-width="0.9"/>
<line x1="31.0" y1="708.80" x2="33.0" y2="708.80" stroke="#555" stroke-width="0.5"/>
<text x="30.6" y="711.20" font-family="Liberation Sans, sans-serif" font-size="6.7" fill="#444" stroke="#444" stroke-width="0.1" text-anchor="end">0.0</text>
<line x1="31.0" y1="658.70" x2="33.0" y2="658.70" stroke="#555" stroke-width="0.5"/>
<text x="30.6" y="661.10" font-family="Liberation Sans, sans-serif" font-size="6.7" fill="#444" stroke="#444" stroke-width="0.1" text-anchor="end">0.5</text>
<line x1="31.0" y1="608.60" x2="33.0" y2="608.60" stroke="#555" stroke-width="0.5"/>
<text x="30.6" y="611.00" font-family="Liberation Sans, sans-serif" font-size="6.7" fill="#444" stroke="#444" stroke-width="0.1" text-anchor="end">1.0</text>
<line x1="31.0" y1="558.50" x2="33.0" y2="558.50" stroke="#555" stroke-width="0.5"/>
<text x="30.6" y="560.90" font-family="Liberation Sans, sans-serif" font-size="6.7" fill="#444" stroke="#444" stroke-width="0.1" text-anchor="end">1.5</text>
<line x1="42.50" y1="713.1" x2="42.50" y2="715.1" stroke="#555" stroke-width="0.5"/>
<text x="42.50" y="720.7" font-family="Liberation Sans, sans-serif" font-size="6.7" fill="#444" stroke="#444" stroke-width="0.1" text-anchor="middle">0.00</text>
<line x1="98.90" y1="713.1" x2="98.90" y2="715.1" stroke="#555" stroke-width="0.5"/>
<text x="98.90" y="720.7" font-family="Liberation Sans, sans-serif" font-size="6.7" fill="#444" stroke="#444" stroke-width="0.1" text-anchor="middle">0.25</text>
<line x1="155.30" y1="713.1" x2="155.30" y2="715.1" stroke="#555" stroke-width="0.5"/>
<text x="155.30" y="720.7" font-family="Liberation Sans, sans-serif" font-size="6.7" fill="#444" stroke="#444" stroke-width="0.1" text-anchor="middle">0.50</text>
<line x1="211.70" y1="713.1" x2="211.70" y2="715.1" stroke="#555" stroke-width="0.5"/>
<text x="211.70" y="720.7" font-family="Liberation Sans, sans-serif" font-size="6.7" fill="#444" stroke="#444" stroke-width="0.1" text-anchor="middle">0.75</text>
<text x="139.20" y="727.6" font-family="Liberation Sans, sans-serif" font-size="6.5" fill="#111" stroke="#111" stroke-width="0.1" text-anchor="middle">Impact</text>
<text x="19.2" y="613.30" font-family="Liberation Sans, sans-serif" font-size="6.6" fill="#111" stroke="#111" stroke-width="0.1" text-anchor="middle" transform="rotate(-90 19.2 613.30)">− ln <tspan font-style="italic">P</tspan>-value</text>
<line x1="274.4" y1="711.40" x2="486.4" y2="711.40" stroke="#8d6bff" stroke-width="1.0" stroke-dasharray="1.6 1.95"/>
<line x1="274.4" y1="667.00" x2="486.4" y2="667.00" stroke="#8d6bff" stroke-width="1.0" stroke-dasharray="1.6 1.95"/>
<line x1="274.4" y1="622.60" x2="486.4" y2="622.60" stroke="#8d6bff" stroke-width="1.0" stroke-dasharray="1.6 1.95"/>
<line x1="274.4" y1="578.20" x2="486.4" y2="578.20" stroke="#8d6bff" stroke-width="1.0" stroke-dasharray="1.6 1.95"/>
<line x1="274.4" y1="533.80" x2="486.4" y2="533.80" stroke="#8d6bff" stroke-width="1.0" stroke-dasharray="1.6 1.95"/>
<line x1="283.40" y1="514.0" x2="283.40" y2="713.5" stroke="#8d6bff" stroke-width="1.0" stroke-dasharray="1.6 1.95"/>
<line x1="339.77" y1="514.0" x2="339.77" y2="713.5" stroke="#8d6bff" stroke-width="1.0" stroke-dasharray="1.6 1.95"/>
<line x1="396.15" y1="514.0" x2="396.15" y2="713.5" stroke="#8d6bff" stroke-width="1.0" stroke-dasharray="1.6 1.95"/>
<line x1="452.52" y1="514.0" x2="452.52" y2="713.5" stroke="#8d6bff" stroke-width="1.0" stroke-dasharray="1.6 1.95"/>
<circle cx="289.90" cy="523.10" r="4.45" fill="#ff0000" stroke="#1e1e1e" stroke-width="0.95"/>
<circle cx="316.10" cy="560.20" r="5.31" fill="#ff5c3b" stroke="#1e1e1e" stroke-width="0.95"/>
<circle cx="350.40" cy="547.10" r="5.99" fill="#ff482a" stroke="#1e1e1e" stroke-width="0.95"/>
<circle cx="391.00" cy="570.80" r="6.59" fill="#ff6b49" stroke="#1e1e1e" stroke-width="0.95"/>
<circle cx="283.40" cy="608.10" r="3.75" fill="#ff977a" stroke="#1e1e1e" stroke-width="0.95"/>
<circle cx="331.80" cy="628.40" r="5.65" fill="#ffae94" stroke="#1e1e1e" stroke-width="0.95"/>
<circle cx="287.70" cy="641.00" r="4.32" fill="#ffbca6" stroke="#1e1e1e" stroke-width="0.95"/>
<circle cx="283.40" cy="649.10" r="3.75" fill="#ffc4b1" stroke="#1e1e1e" stroke-width="0.95"/>
<circle cx="328.80" cy="649.10" r="5.59" fill="#ffc4b1" stroke="#1e1e1e" stroke-width="0.95"/>
<circle cx="343.80" cy="659.30" r="5.87" fill="#ffcfbf" stroke="#1e1e1e" stroke-width="0.95"/>
<circle cx="310.20" cy="663.30" r="5.17" fill="#ffd3c4" stroke="#1e1e1e" stroke-width="0.95"/>
<circle cx="283.40" cy="661.80" r="3.75" fill="#ffd2c2" stroke="#1e1e1e" stroke-width="0.95"/>
<circle cx="283.40" cy="664.50" r="3.75" fill="#ffd5c6" stroke="#1e1e1e" stroke-width="0.95"/>
<circle cx="283.50" cy="676.90" r="3.84" fill="#ffe2d7" stroke="#1e1e1e" stroke-width="0.95"/>
<circle cx="283.50" cy="687.70" r="3.84" fill="#ffede7" stroke="#1e1e1e" stroke-width="0.95"/>
<circle cx="294.90" cy="692.30" r="4.68" fill="#fff2ed" stroke="#1e1e1e" stroke-width="0.95"/>
<circle cx="291.00" cy="700.80" r="4.50" fill="#fffbf9" stroke="#1e1e1e" stroke-width="0.95"/>
<circle cx="283.40" cy="701.90" r="3.75" fill="#fffcfb" stroke="#1e1e1e" stroke-width="0.95"/>
<circle cx="283.40" cy="704.30" r="3.75" fill="#fffffe" stroke="#1e1e1e" stroke-width="0.95"/>
<circle cx="292.50" cy="704.70" r="4.57" fill="#ffffff" stroke="#1e1e1e" stroke-width="0.95"/>
<circle cx="476.90" cy="643.30" r="7.55" fill="#ffbea9" stroke="#1e1e1e" stroke-width="0.95"/>
<rect x="314.60" y="535.90" width="89.11" height="6.4" rx="1" fill="#ff482a" stroke="#5a2a20" stroke-opacity="0.45" stroke-width="0.5"/>
<text x="315.80" y="541.10" font-family="Liberation Sans, sans-serif" font-size="6" fill="#222" transform="matrix(1 0 0 1.06 0 -32.466)">Glycerophospholipid metabolism</text>
<rect x="367.20" y="559.60" width="66.09" height="6.4" rx="1" fill="#ff6b49" stroke="#5a2a20" stroke-opacity="0.45" stroke-width="0.5"/>
<text x="368.40" y="564.80" font-family="Liberation Sans, sans-serif" font-size="6" fill="#222" transform="matrix(1 0 0 1.06 0 -33.888)">Glycerolipid metabolism</text>
<rect x="315.70" y="617.80" width="49.75" height="6.4" rx="1" fill="#ffae94" stroke="#5a2a20" stroke-opacity="0.45" stroke-width="0.5"/>
<text x="316.90" y="623.00" font-family="Liberation Sans, sans-serif" font-size="6" fill="#222" transform="matrix(1 0 0 1.06 0 -37.380)">Biotin metabolism</text>
<rect x="377.10" y="640.00" width="99.12" height="6.4" rx="1" fill="#ffbea9" stroke="#5a2a20" stroke-opacity="0.45" stroke-width="0.5"/>
<text x="378.30" y="645.20" font-family="Liberation Sans, sans-serif" font-size="6" fill="#222" transform="matrix(1 0 0 1.06 0 -38.712)">Taurine and hypotaurine metabolism</text>
<rect x="281.60" y="664.70" width="108.45" height="6.4" rx="1" fill="#ffd5c6" stroke="#5a2a20" stroke-opacity="0.45" stroke-width="0.5"/>
<text x="282.80" y="669.90" font-family="Liberation Sans, sans-serif" font-size="6" fill="#222" transform="matrix(1 0 0 1.06 0 -40.194)">Nicotinate and nicotinamide metabolism</text>
<rect x="274.4" y="514.0" width="212.0" height="199.5" fill="none" stroke="#b8b8b8" stroke-width="0.9"/>
<line x1="272.4" y1="711.40" x2="274.4" y2="711.40" stroke="#555" stroke-width="0.5"/>
<text x="272.0" y="713.80" font-family="Liberation Sans, sans-serif" font-size="6.7" fill="#444" stroke="#444" stroke-width="0.1" text-anchor="end">0.0</text>
<line x1="272.4" y1="667.00" x2="274.4" y2="667.00" stroke="#555" stroke-width="0.5"/>
<text x="272.0" y="669.40" font-family="Liberation Sans, sans-serif" font-size="6.7" fill="#444" stroke="#444" stroke-width="0.1" text-anchor="end">0.5</text>
<line x1="272.4" y1="622.60" x2="274.4" y2="622.60" stroke="#555" stroke-width="0.5"/>
<text x="272.0" y="625.00" font-family="Liberation Sans, sans-serif" font-size="6.7" fill="#444" stroke="#444" stroke-width="0.1" text-anchor="end">1.0</text>
<line x1="272.4" y1="578.20" x2="274.4" y2="578.20" stroke="#555" stroke-width="0.5"/>
<text x="272.0" y="580.60" font-family="Liberation Sans, sans-serif" font-size="6.7" fill="#444" stroke="#444" stroke-width="0.1" text-anchor="end">1.5</text>
<line x1="272.4" y1="533.80" x2="274.4" y2="533.80" stroke="#555" stroke-width="0.5"/>
<text x="272.0" y="536.20" font-family="Liberation Sans, sans-serif" font-size="6.7" fill="#444" stroke="#444" stroke-width="0.1" text-anchor="end">2.0</text>
<line x1="283.40" y1="713.5" x2="283.40" y2="715.5" stroke="#555" stroke-width="0.5"/>
<text x="283.40" y="721.1" font-family="Liberation Sans, sans-serif" font-size="6.7" fill="#444" stroke="#444" stroke-width="0.1" text-anchor="middle">0.00</text>
<line x1="339.77" y1="713.5" x2="339.77" y2="715.5" stroke="#555" stroke-width="0.5"/>
<text x="339.77" y="721.1" font-family="Liberation Sans, sans-serif" font-size="6.7" fill="#444" stroke="#444" stroke-width="0.1" text-anchor="middle">0.25</text>
<line x1="396.15" y1="713.5" x2="396.15" y2="715.5" stroke="#555" stroke-width="0.5"/>
<text x="396.15" y="721.1" font-family="Liberation Sans, sans-serif" font-size="6.7" fill="#444" stroke="#444" stroke-width="0.1" text-anchor="middle">0.50</text>
<line x1="452.52" y1="713.5" x2="452.52" y2="715.5" stroke="#555" stroke-width="0.5"/>
<text x="452.52" y="721.1" font-family="Liberation Sans, sans-serif" font-size="6.7" fill="#444" stroke="#444" stroke-width="0.1" text-anchor="middle">0.75</text>
<text x="380.40" y="728.0" font-family="Liberation Sans, sans-serif" font-size="6.5" fill="#111" stroke="#111" stroke-width="0.1" text-anchor="middle">Impact</text>
<text x="260.5" y="613.75" font-family="Liberation Sans, sans-serif" font-size="6.6" fill="#111" stroke="#111" stroke-width="0.1" text-anchor="middle" transform="rotate(-90 260.5 613.75)">− ln <tspan font-style="italic">P</tspan>-value</text>
<text x="500" y="581.9" font-family="Liberation Sans, sans-serif" font-size="6.7" fill="#111" stroke="#111" stroke-width="0.1">− ln <tspan font-style="italic">P</tspan>-value</text>
<defs><linearGradient id="gr" x1="0" x2="1" y1="0" y2="0"><stop offset="0.0" stop-color="#ffffff"/><stop offset="0.1" stop-color="#ffece5"/><stop offset="0.2" stop-color="#ffd9cb"/><stop offset="0.3" stop-color="#ffc6b2"/><stop offset="0.4" stop-color="#ffb299"/><stop offset="0.5" stop-color="#ff9e81"/><stop offset="0.6" stop-color="#ff8969"/><stop offset="0.7" stop-color="#ff7352"/><stop offset="0.8" stop-color="#ff5b3a"/><stop offset="0.9" stop-color="#ff3e22"/><stop offset="1.0" stop-color="#ff0000"/></linearGradient></defs>
<rect x="494.5" y="585.5" width="46.4" height="9" fill="url(#gr)"/>
<text x="505.5" y="603.3" font-family="Liberation Sans, sans-serif" font-size="6.7" fill="#333" stroke="#333" stroke-width="0.1" text-anchor="middle">0.5</text>
<text x="517.1" y="603.3" font-family="Liberation Sans, sans-serif" font-size="6.7" fill="#333" stroke="#333" stroke-width="0.1" text-anchor="middle">1.0</text>
<text x="528.7" y="603.3" font-family="Liberation Sans, sans-serif" font-size="6.7" fill="#333" stroke="#333" stroke-width="0.1" text-anchor="middle">1.5</text>
<text x="540.3" y="603.3" font-family="Liberation Sans, sans-serif" font-size="6.7" fill="#333" stroke="#333" stroke-width="0.1" text-anchor="middle">2.0</text>
<text x="503.4" y="619.0" font-family="Liberation Sans, sans-serif" font-size="6.6" fill="#111" stroke="#111" stroke-width="0.1">Impact</text>
<circle cx="502.7" cy="627.3" r="3.8" fill="#fff" stroke="#222" stroke-width="0.6"/>
<circle cx="502.7" cy="641.8" r="7.5" fill="#fff" stroke="#222" stroke-width="0.6"/>
<text x="515.5" y="629.6" font-family="Liberation Sans, sans-serif" font-size="6.7" fill="#333" stroke="#333" stroke-width="0.1">0</text>
<text x="515.5" y="644.1" font-family="Liberation Sans, sans-serif" font-size="6.7" fill="#333" stroke="#333" stroke-width="0.1">0.857</text>
<text x="12.0" y="20.9" font-family="Liberation Sans, sans-serif" font-size="16.3" fill="#000">A</text>
<text x="14.0" y="256.2" font-family="Liberation Sans, sans-serif" font-size="16.3" fill="#000">B</text>
<text x="15.5" y="520.3" font-family="Liberation Sans, sans-serif" font-size="16.3" fill="#000">C</text>
<text x="256.3" y="520.1" font-family="Liberation Sans, sans-serif" font-size="16.3" fill="#000">D</text>
</svg></body></html>
